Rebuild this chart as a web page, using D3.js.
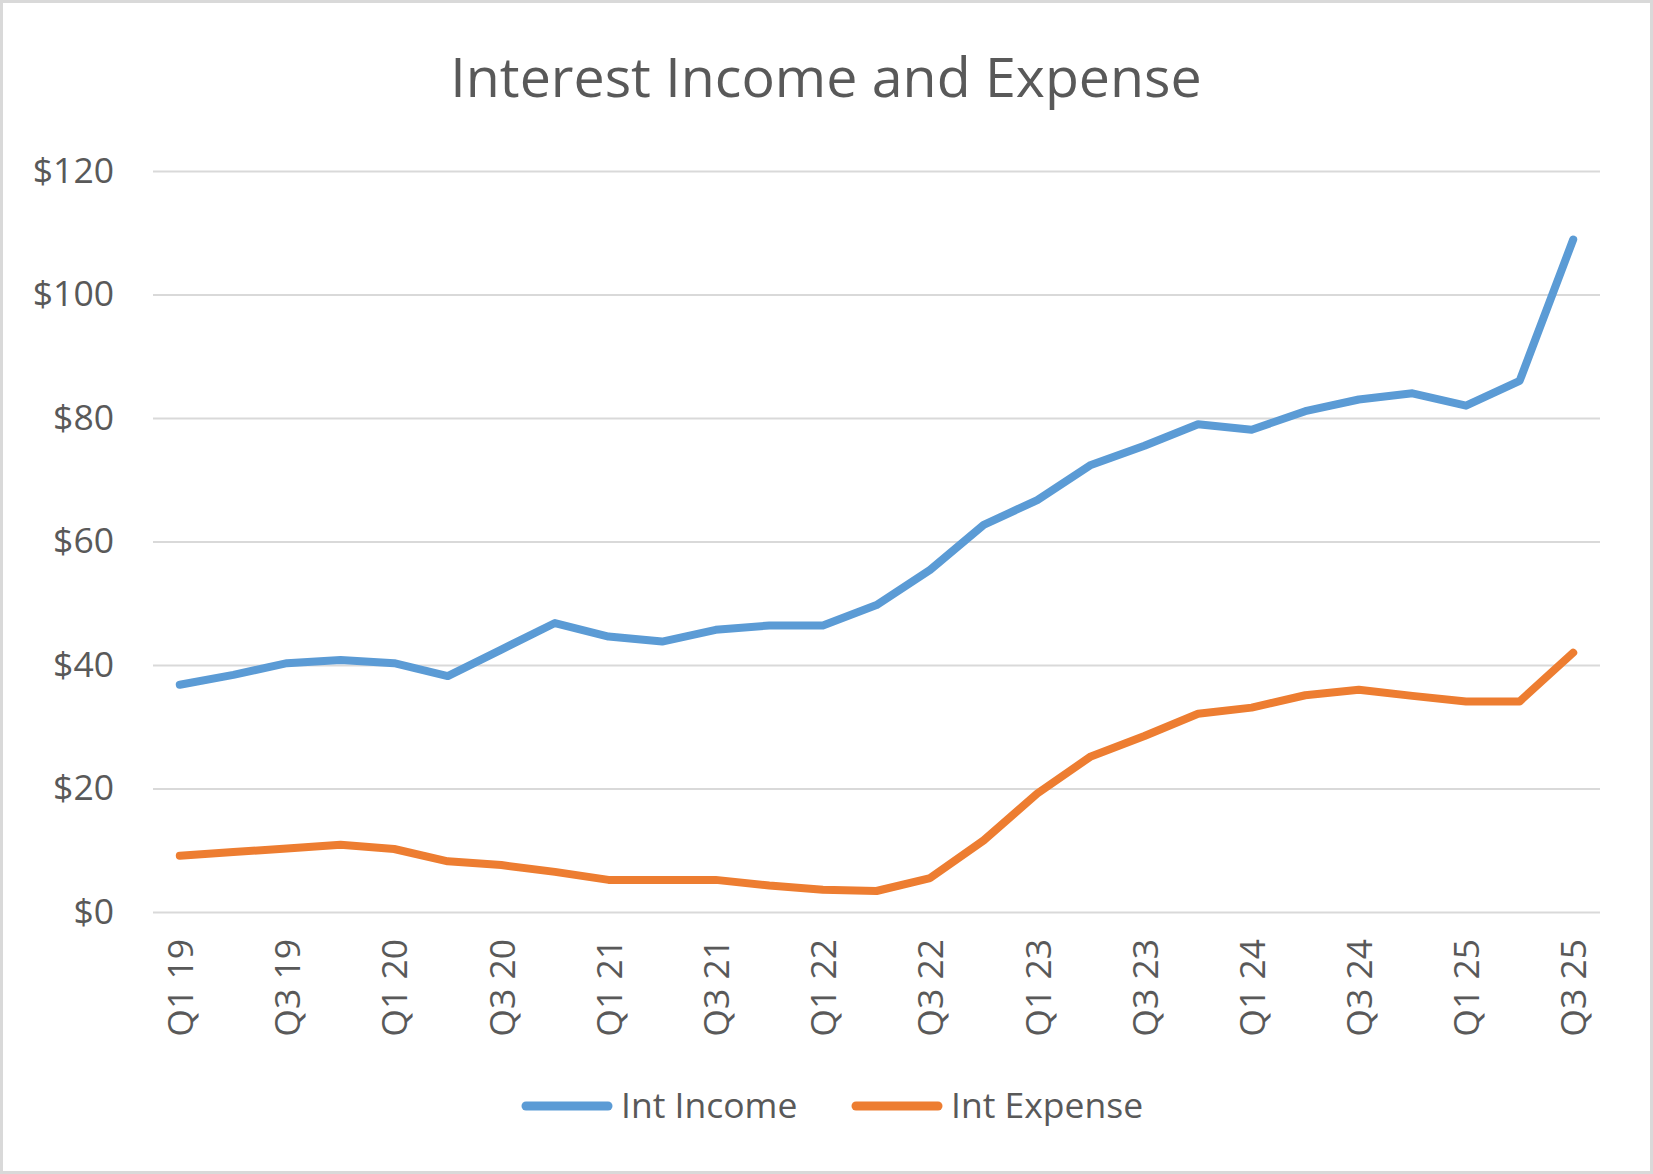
<!DOCTYPE html>
<html>
<head>
<meta charset="utf-8">
<script src="https://cdn.jsdelivr.net/npm/d3@7"></script>
<style>
  body { margin: 0; background: #fff; }
  text { font-family: "Open Sans", sans-serif; fill: #595959; }
</style>
</head>
<body>
<svg width="1653" height="1174"></svg>
<script>
const quarters = ["Q1 19","Q2 19","Q3 19","Q4 19","Q1 20","Q2 20","Q3 20","Q4 20",
  "Q1 21","Q2 21","Q3 21","Q4 21","Q1 22","Q2 22","Q3 22","Q4 22",
  "Q1 23","Q2 23","Q3 23","Q4 23","Q1 24","Q2 24","Q3 24","Q4 24",
  "Q1 25","Q2 25","Q3 25"];
const intIncome = [36.8, 38.4, 40.3, 40.8, 40.3, 38.2, 42.5, 46.8, 44.6, 43.8, 45.7, 46.4, 46.4,
  49.7, 55.4, 62.7, 66.7, 72.4, 75.5, 79.0, 78.1, 81.1, 83.0, 84.0, 82.0, 86.0, 108.9];
const intExpense = [9.1, 9.7, 10.3, 10.9, 10.2, 8.2, 7.6, 6.5, 5.2, 5.2, 5.2, 4.3, 3.6,
  3.4, 5.5, 11.6, 19.2, 25.2, 28.5, 32.1, 33.1, 35.1, 36.0, 35.0, 34.1, 34.1, 42.0];
const yTicks = [0, 20, 40, 60, 80, 100, 120];
const xTickLabels = quarters.filter((d, i) => i % 2 === 0);
const seriesNames = ["Int Income", "Int Expense"];
const seriesColors = ["#5b9bd5", "#ed7d31"];

function drawChart() {
  const svg = d3.select("svg");
  const left = 153, right = 1600, top = 171, bottom = 912;

  // outer frame
  svg.append("rect")
    .attr("x", 1.5).attr("y", 1.5)
    .attr("width", 1650).attr("height", 1171)
    .attr("fill", "#fff")
    .attr("stroke", "#d9d9d9")
    .attr("stroke-width", 3);

  svg.append("text")
    .attr("x", 826).attr("y", 97)
    .attr("text-anchor", "middle")
    .style("font-size", "55.5px")
    .text("Interest Income and Expense");

  let xScale = d3.scalePoint().domain(quarters).range([left, right]).padding(0.5);
  let yScale = d3.scaleLinear().domain([0, 120]).range([bottom, top]);

  let yAxis = d3.axisLeft().scale(yScale)
    .tickValues(yTicks)
    .tickSize(-(right - left))
    .tickPadding(39)
    .tickFormat(d => "$" + d);

  let gy = svg.append("g")
    .attr("class", "y axis")
    .attr("transform", `translate(${left}, 0)`)
    .call(yAxis);
  gy.select(".domain").remove();
  gy.selectAll("line").attr("stroke", "#d9d9d9").attr("stroke-width", 2);
  gy.selectAll("text").style("font-size", "35.5px").attr("fill", "#595959");

  let xAxis = d3.axisBottom().scale(xScale).tickValues(xTickLabels).tickSize(0);
  let gx = svg.append("g")
    .attr("class", "x axis")
    .attr("transform", `translate(0, ${bottom})`)
    .call(xAxis);
  gx.select(".domain").remove();
  gx.selectAll("text")
    .attr("transform", "rotate(-90)")
    .attr("x", -27).attr("y", 0).attr("dy", "0.36em")
    .attr("text-anchor", "end")
    .attr("fill", "#595959")
    .style("font-size", "35.5px");

  const series = [intIncome, intExpense].map((vals, i) => ({
    name: seriesNames[i], color: seriesColors[i], values: vals
  }));

  let line = d3.line()
    .x((d, i) => xScale(quarters[i]))
    .y(d => yScale(d));

  svg.selectAll("path.series")
    .data(series)
    .join("path")
    .attr("class", "series")
    .attr("d", d => line(d.values))
    .attr("fill", "none")
    .attr("stroke", d => d.color)
    .attr("stroke-width", 8)
    .attr("stroke-linecap", "round")
    .attr("stroke-linejoin", "round");

  // legend
  const legendX = [522, 852];
  let legend = svg.selectAll("g.legend")
    .data(series)
    .join("g")
    .attr("class", "legend")
    .attr("transform", (d, i) => `translate(${legendX[i]}, 1106)`);
  legend.append("line")
    .attr("x1", 4).attr("x2", 86)
    .attr("stroke", d => d.color)
    .attr("stroke-width", 9)
    .attr("stroke-linecap", "round");
  legend.append("text")
    .attr("x", 99).attr("y", 12)
    .style("font-size", "35.5px")
    .text(d => d.name);
}

drawChart();
</script>
</body>
</html>
